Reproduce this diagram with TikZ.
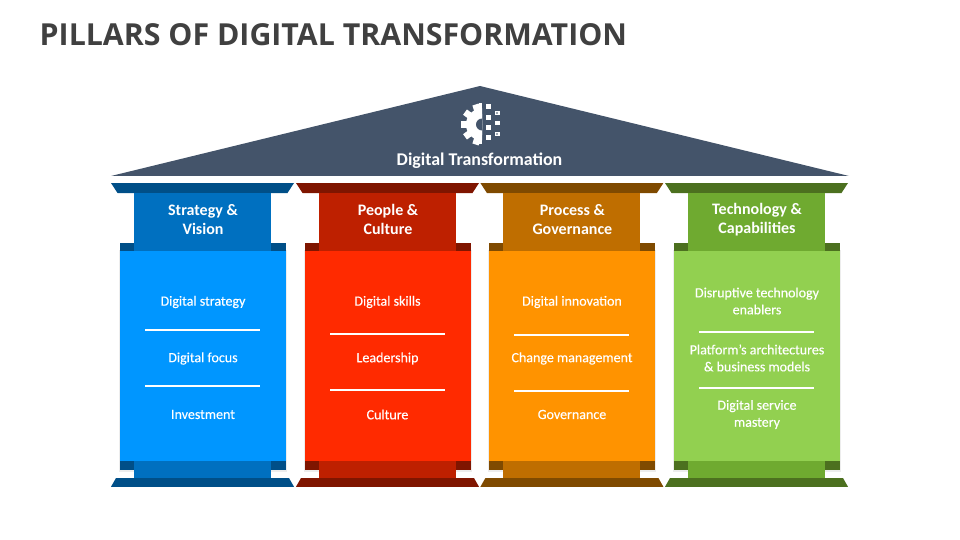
\documentclass[tikz,border=0pt]{standalone}
\usepackage{fontspec}
\setmainfont{Carlito}
\newfontfamily\titlefont{Open Sans}
\newfontfamily\itemfont[FakeBold=0.25]{Carlito}
\definecolor{roofc}{HTML}{44546A}
\definecolor{inkc}{HTML}{404040}
\definecolor{bA}{HTML}{0096FF}\definecolor{nA}{HTML}{0070C0}\definecolor{dA}{HTML}{004F88}
\definecolor{bB}{HTML}{FF2A00}\definecolor{nB}{HTML}{BE2000}\definecolor{dB}{HTML}{7F1500}
\definecolor{bC}{HTML}{FF9300}\definecolor{nC}{HTML}{BF6E00}\definecolor{dC}{HTML}{7F4A00}
\definecolor{bD}{HTML}{92D050}\definecolor{nD}{HTML}{6FAA30}\definecolor{dD}{HTML}{4C701F}
\tikzset{
  headtxt/.style={font=\bfseries\fontsize{16}{19}\selectfont,text=white,align=center,inner sep=0pt},
  itemtxt/.style={font=\itemfont\fontsize{14}{17}\selectfont,text=white,align=center,inner sep=0pt},
  sepline/.style={draw=white,line width=1.5pt},
}
% #1 x-offset, #2 suffix, #3 heading, #4 first separator y
\newcommand{\pillar}[4]{
  \begin{scope}[shift={(#1,0)}]
    \fill[black!7] (-1,460) rectangle (167,472);
    \fill[black!7] (-1,250) rectangle (167,462);
    \fill[d#2] (-9,183) -- (174,183) -- (167.5,193) -- (-2.5,193) -- cycle;
    \fill[d#2] (0,243) rectangle (166,470);
    \fill[n#2] (14,192.7) rectangle (151,251);
    \fill[n#2] (14,461) rectangle (151,478);
    \fill[d#2] (-4,478) -- (169,478) -- (174,486.8) -- (-9,486.8) -- cycle;
    \fill[b#2] (0,251) rectangle (166,461);
    \node[headtxt] (head#2) at (83,219.5) {#3};
    \coordinate (sa#2) at (25,#4);
    \coordinate (sb#2) at (140,#4);
    \coordinate (sc#2) at (25,#4+56);
    \coordinate (sd#2) at (140,#4+56);
  \end{scope}
}
\begin{document}
\begin{tikzpicture}[x=1pt,y=-1pt]
\useasboundingbox (0,0) rectangle (960,540);
\node[anchor=base west,inner sep=0pt,text=inkc,font=\titlefont\bfseries\fontsize{30.3}{36}\selectfont] (title) at (39.5,46) {PILLARS OF DIGITAL TRANSFORMATION};
\fill[roofc] (480,86) -- (849,176) -- (111,176) -- cycle;
\node[font=\bfseries\fontsize{17.9}{20}\selectfont,text=white,inner sep=0pt] (roof) at (479.5,160.5) {Digital Transformation};
% icon
\begin{scope}
  \clip (455,100) rectangle (482,150);
  \fill[white] (482,124.5) circle[radius=16];
  \foreach \ang in {108,144,180,216,252}
    \fill[white,rotate around={\ang:(482,124.5)}] (482,121.2) rectangle (503,127.8);
  \fill[roofc] (482,124.5) circle[radius=6];
\end{scope}
\fill[white] (479,103) rectangle (482,117.5);
\fill[white] (479,131.5) rectangle (482,144.5);
\foreach \yy in {107,118,128,138} \fill[white] (485.5,\yy-2.5) rectangle (490.5,\yy+2.5);
\foreach \yy in {113,123,134} \fill[white] (494.5,\yy-2.3) rectangle (499.5,\yy+2.3);
\foreach \yy in {113,134} \fill[roofc] (497,\yy) circle[radius=.9];
% pillars
\pillar{120}{A}{Strategy \&\\Vision}{330}
\pillar{305}{B}{People \&\\Culture}{334}
\pillar{489.4}{C}{Process \&\\Governance}{335}
\pillar{674}{D}{Technology \&\\Capabilities}{332}
% items
\node[itemtxt] (a1) at (203,302) {Digital strategy};
\node[itemtxt] (a2) at (203,358.5) {Digital focus};
\node[itemtxt] (a3) at (203,414.5) {Investment};
\node[itemtxt] (b1) at (387.5,302) {Digital skills};
\node[itemtxt] (b2) at (387.5,358.5) {Leadership};
\node[itemtxt] (b3) at (387.5,414.5) {Culture};
\node[itemtxt] (c1) at (572,302) {Digital innovation};
\node[itemtxt] (c2) at (572,358.5) {Change management};
\node[itemtxt] (c3) at (572,414.5) {Governance};
\node[itemtxt] (d1) at (757,301) {Disruptive technology\\enablers};
\node[itemtxt] (d2) at (757,358) {Platform’s architectures\\\& business models};
\node[itemtxt] (d3) at (757,414.5) {Digital service\\mastery};
\draw[sepline] (saA) -- (sbA);
\draw[sepline] (scA) -- (sdA);
\draw[sepline] (saB) -- (sbB);
\draw[sepline] (scB) -- (sdB);
\draw[sepline] (saC) -- (sbC);
\draw[sepline] (scC) -- (sdC);
\draw[sepline] (saD) -- (sbD);
\draw[sepline] (scD) -- (sdD);
\end{tikzpicture}
\end{document}
